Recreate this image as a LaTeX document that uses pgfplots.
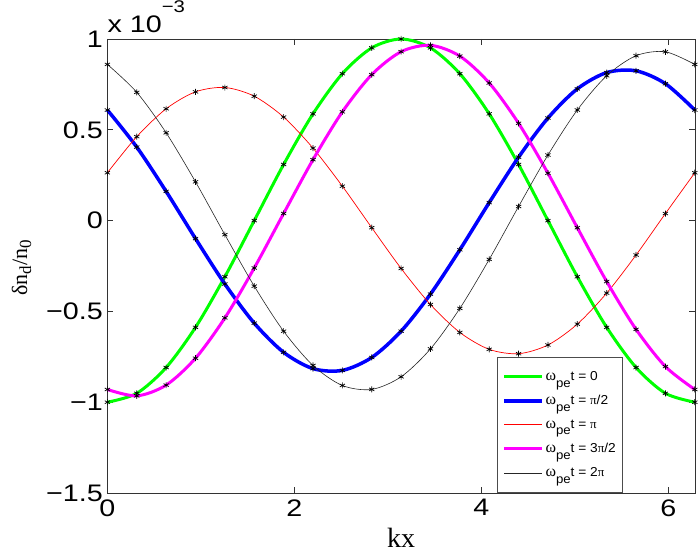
\documentclass[border=0pt]{standalone}
\usepackage{fontspec}
\setmainfont{Liberation Sans}
\newfontfamily\serif{Liberation Serif}
\newfontfamily\wide[FakeStretch=1.2]{Liberation Sans}
\newfontfamily\lwide[FakeStretch=1.06]{Liberation Sans}
\usepackage{pgfplots}
\usepackage{pgfplotstable}
\pgfplotsset{compat=1.18}
\pgfplotstableread{
x g b r m k
0.00000 -1.0000 0.6090 0.2635 -0.9300 0.8600
0.31416 -0.9511 0.4047 0.4622 -0.9651 0.7063
0.62832 -0.8090 0.1607 0.6158 -0.9058 0.4835
0.94248 -0.5878 -0.0991 0.7090 -0.7578 0.2135
1.25664 -0.3090 -0.3491 0.7329 -0.5357 -0.0776
1.57080 0.0000 -0.5648 0.6850 -0.2610 -0.3610
1.88496 0.3090 -0.7254 0.5700 0.0391 -0.6091
2.19911 0.5878 -0.8150 0.3992 0.3354 -0.7976
2.51327 0.8090 -0.8248 0.1894 0.5990 -0.9080
2.82743 0.9511 -0.7538 -0.0389 0.8037 -0.9295
3.14159 1.0000 -0.6090 -0.2635 0.9300 -0.8600
3.45575 0.9511 -0.4047 -0.4622 0.9651 -0.7063
3.76991 0.8090 -0.1607 -0.6158 0.9058 -0.4835
4.08407 0.5878 0.0991 -0.7090 0.7578 -0.2135
4.39823 0.3090 0.3491 -0.7329 0.5357 0.0776
4.71239 0.0000 0.5648 -0.6850 0.2610 0.3610
5.02655 -0.3090 0.7254 -0.5700 -0.0391 0.6091
5.34071 -0.5878 0.8150 -0.3992 -0.3354 0.7976
5.65487 -0.8090 0.8248 -0.1894 -0.5990 0.9080
5.96903 -0.9511 0.7538 0.0389 -0.8037 0.9295
6.28319 -1.0000 0.6090 0.2635 -0.9300 0.8600
}\data
\definecolor{mgreen}{RGB}{0,255,0}
\definecolor{mmag}{RGB}{255,0,255}
\newcommand{\wpe}{{\serif\fontsize{16}{16}\selectfont ω}\raisebox{-6.5bp}{\fontsize{12.5}{12.5}\selectfont pe}}
\begin{document}
\begin{tikzpicture}
\useasboundingbox (-107.4bp,-61bp) rectangle (592.6bp,493bp);
\begin{axis}[
  scale only axis, width=587.4bp, height=454bp,
  xmin=0, xmax=6.28319, ymin=-1.5, ymax=1,
  xtick={0,2,4,6}, xticklabels={0,2,4,6},
  ytick={-1.5,-1,-0.5,0,0.5,1},
  yticklabels={−1.5,−1,−0.5,0,0.5,1},
  tick align=inside, xtick pos=both, ytick pos=both,
  major tick length=6bp,
  every tick/.style={black!80, line width=0.6bp},
  axis line style={black!80, line width=0.6bp},
  tick label style={font=\wide\fontsize{24}{24}\selectfont},
  xticklabel style={yshift=-3bp},
  yticklabel style={xshift=-1bp},
  clip=false,
  xlabel={\serif kx},
  xlabel style={at={(axis description cs:0.5,-0.098)}, anchor=center, font=\fontsize{28}{28}\selectfont},
  ylabel={\serif δn\raisebox{-4bp}{\fontsize{17}{17}\selectfont d}/n\raisebox{-4bp}{\fontsize{17}{17}\selectfont 0}},
  ylabel style={at={(axis description cs:-0.146,0.496)}, anchor=center, font=\fontsize{22}{22}\selectfont},
  legend image code/.code={\draw[#1] (0bp,0bp) -- (38bp,0bp);},
  legend cell align=left,
  legend style={at={(0.6628,0)}, anchor=south west, draw=black!70, line width=0.6bp, fill=white,
    font=\lwide\fontsize{13}{15}\selectfont, inner xsep=5.5bp, inner ysep=13bp, row sep=10.5bp,
    nodes={inner sep=1.5bp}},
]
\addplot[mgreen, line width=3bp, smooth] table[x=x,y=g] {\data};
\addlegendentry{\wpe t = 0}
\addplot[blue, line width=3.5bp, smooth] table[x=x,y=b] {\data};
\addlegendentry{\wpe t = {\serif π}/2}
\addplot[red, line width=0.7bp, smooth] table[x=x,y=r] {\data};
\addlegendentry{\wpe t = {\serif π}}
\addplot[mmag, line width=3bp, smooth] table[x=x,y=m] {\data};
\addlegendentry{\wpe t = 3{\serif π}/2}
\addplot[black!85, line width=0.6bp, smooth] table[x=x,y=k] {\data};
\addlegendentry{\wpe t = 2{\serif π}}
\addplot[only marks, mark=asterisk, mark size=3bp, mark options={black, line width=0.7bp}, forget plot] table[x=x,y=g] {\data};
\addplot[only marks, mark=asterisk, mark size=3bp, mark options={black, line width=0.7bp}, forget plot] table[x=x,y=b] {\data};
\addplot[only marks, mark=asterisk, mark size=3bp, mark options={black, line width=0.7bp}, forget plot] table[x=x,y=r] {\data};
\addplot[only marks, mark=asterisk, mark size=3bp, mark options={black, line width=0.7bp}, forget plot] table[x=x,y=m] {\data};
\addplot[only marks, mark=asterisk, mark size=3bp, mark options={black, line width=0.7bp}, forget plot] table[x=x,y=k] {\data};
\node[anchor=base west, inner sep=0pt, font=\wide\fontsize{24}{24}\selectfont] at ([yshift=6bp]rel axis cs:0,1) {x 10\raisebox{1.6ex}{\fontsize{17}{17}\selectfont −3}};
\end{axis}
\end{tikzpicture}
\end{document}
